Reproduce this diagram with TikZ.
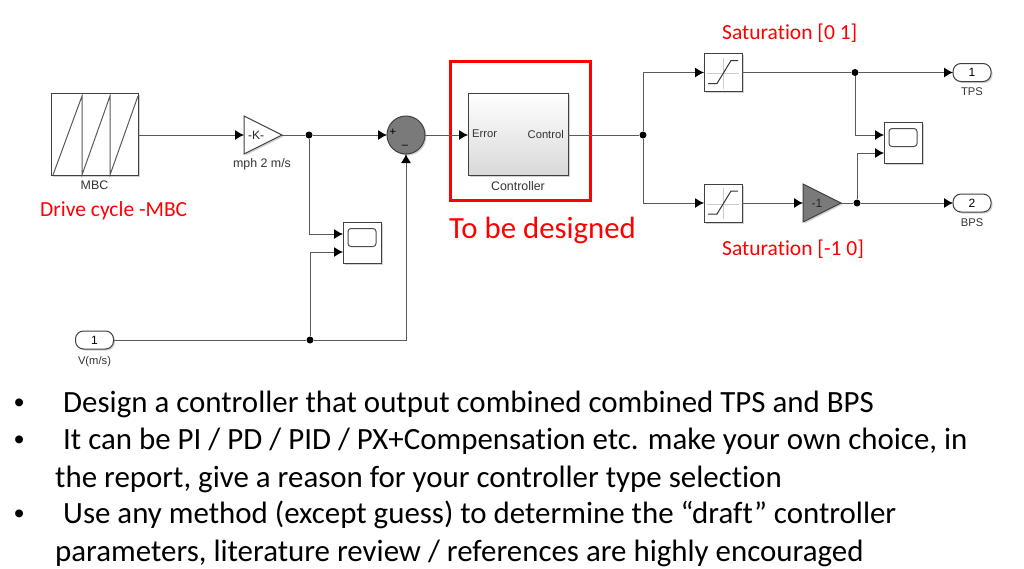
\documentclass[tikz,border=0pt]{standalone}
\usepackage{fontspec}
\setmainfont[Ligatures=NoCommon]{Carlito}
\newfontfamily\simfont{Liberation Sans}
\usetikzlibrary{arrows.meta}
\usetikzlibrary{positioning}
\usetikzlibrary{shadows}
\usetikzlibrary{shapes.geometric}
\definecolor{wirecol}{HTML}{5A5A5A}
\definecolor{darkblock}{HTML}{7A7A7A}
\tikzset{
  wire/.style={draw=wirecol,line width=1pt,-{Latex[length=9pt,width=10pt,color=black]}},
  plain wire/.style={draw=wirecol,line width=1pt},
  block/.style={draw=black!75,fill=white,line width=1pt,inner sep=0pt,outer sep=0pt,
                drop shadow={shadow xshift=1.5pt,shadow yshift=-1.5pt,fill=black!35}},
  satblock/.style={block,minimum width=38pt,minimum height=38pt},
  scopeblock/.style={block,minimum width=38pt,minimum height=41pt},
  port/.style={block,rounded corners=8pt,minimum width=38pt,minimum height=18pt,font=\simfont\fontsize{12}{14}\selectfont},
  gain/.style={block,isosceles triangle,isosceles triangle stretches,minimum width=38pt,minimum height=38pt,anchor=lower side},
  gaintext/.style={font=\simfont\fontsize{12}{14}\selectfont,text=black!85,inner sep=0pt},
  junction/.style={circle,fill=black,inner sep=0pt,minimum size=7pt},
  simlabel/.style={font=\simfont\fontsize{12.4}{14}\selectfont,text=black!80,inner sep=0pt},
  portlabel/.style={font=\simfont\fontsize{11.2}{13}\selectfont,text=black!80,inner sep=0pt},
  note/.style={text=red,font=\fontsize{21.5}{26}\selectfont,inner sep=0pt},
  bullet/.style={anchor=base west,inner sep=0pt,font=\fontsize{30.9}{36}\selectfont},
  bulletdot/.style={anchor=base west,inner sep=0pt,font=\simfont\fontsize{29}{34}\selectfont}
}
\begin{document}
\begin{tikzpicture}[x=1pt,y=-1pt]
  \useasboundingbox (0,0) rectangle (1024,568);

  \node[block,minimum width=87pt,minimum height=82pt] (mbc) at (94.5,134) {};
  \node[simlabel,below=5.5pt of mbc] (mbclabel) {MBC};
  \node[note,anchor=west] (drive) at (40,211) {Drive cycle -MBC};
  \node[gain] (kgain) at (244,135) {};
  \node[gaintext] (kgaintext) at (256,135) {-K-};
  \node[simlabel] (kgainlabel) at (262,164) {mph 2 m/s};
  \node[block,circle,fill=darkblock,minimum size=38pt] (sum) at (406,135) {};
  \node[portlabel,text=black] (plus) at (393,132) {+};
  \node[portlabel,text=black] (minus) at (405,147) {–};
  \node[block,minimum width=100pt,minimum height=82pt,top color=white,bottom color=black!15,shading angle=0] (ctrl) at (518,134) {};
  \node[portlabel,anchor=west] (error) at (472,134) {Error};
  \node[portlabel,anchor=east] (control) at (564,134) {Control};
  \node[simlabel,below=6.5pt of ctrl] (ctrllabel) {Controller};
  \node[draw=red,line width=3pt,minimum width=140pt,minimum height=139pt,inner sep=0pt] (redbox) at (520,130.5) {};
  \node[note,anchor=west,font=\fontsize{30.8}{36}\selectfont] (design) at (449,230) {To be designed};

  \node[satblock] (sat1) at (723,72.5) {};
  \node[satblock] (sat2) at (723,203) {};
  \node[note,anchor=west] (sat1label) at (722,33.5) {Saturation [0 1]};
  \node[note,anchor=west] (sat2label) at (722,249.5) {Saturation [-1 0]};
  \node[gain,fill=darkblock] (neggain) at (803,203) {};
  \node[gaintext] (neggaintext) at (817,203) {-1};
  \node[scopeblock] (scope1) at (903,143) {};
  \node[scopeblock] (scope2) at (362,243) {};
  \node[port] (tps) at (972,72.5) {1};
  \node[portlabel,below=6pt of tps] (tpslabel) {TPS};
  \node[port] (bps) at (972,203) {2};
  \node[portlabel,below=6pt of bps] (bpslabel) {BPS};
  \node[port] (vin) at (94.5,340) {1};
  \node[portlabel,below=7pt of vin] (vinlabel) {V(m/s)};

  \node[junction] (j1) at (309,135) {};
  \node[junction] (j2) at (643,135) {};
  \node[junction] (j3) at (855,72.5) {};
  \node[junction] (j4) at (857,203) {};
  \node[junction] (j5) at (310,340) {};

  \coordinate (scope1a) at (884,135);
  \coordinate (scope1b) at (884,153);
  \coordinate (scope2a) at (343,234);
  \coordinate (scope2b) at (343,252);

  \draw[plain wire] (53,175) -- (82,96) -- (82,175) -- (110,96) -- (110,175) -- (138,96);
  \foreach \satname in {sat1,sat2} {
    \begin{scope}[shift={(\satname)}]
      \draw[black!20,line width=1pt] (-16,1) -- (16,1) (0,-15) -- (0,16);
      \draw[black!80,line width=1pt] (-15,11) -- (-6,11) -- (8,-12) -- (15,-12);
    \end{scope}
  }
  \foreach \scopename in {scope1,scope2} {
    \draw[black!70,line width=1pt,rounded corners=3pt] ([shift={(-14,-14.5)}]\scopename.center) rectangle ([shift={(14,3.5)}]\scopename.center);
  }

  \draw[wire] (mbc.east |- kgain.lower side) -- (kgain.lower side);
  \draw[plain wire] (kgain.apex) -- (j1);
  \draw[wire] (j1) -- (sum);
  \draw[wire] (sum) -- (ctrl.west |- sum);
  \draw[plain wire] (ctrl.east |- j2) -- (j2);
  \draw[wire] (j1) |- (scope2a);
  \draw[wire] (j5) |- (scope2b);
  \draw[plain wire] (vin) -- (j5);
  \draw[wire] (j5) -| (sum);
  \draw[wire] (j2) |- (sat1);
  \draw[wire] (j2) |- (sat2);
  \draw[plain wire] (sat1) -- (j3);
  \draw[wire] (j3) -- (tps);
  \draw[wire] (sat2) -- (neggain.lower side);
  \draw[plain wire] (neggain.apex) -- (j4);
  \draw[wire] (j4) -- (bps);
  \draw[wire] (j3) |- (scope1a);
  \draw[wire] (j4) |- (scope1b);

  \node[bulletdot] (b1) at (14,412) {•};
  \node[bullet] (t1) at (63,412) {Design a controller that output combined combined TPS and BPS};
  \node[bulletdot] (b2) at (14,449) {•};
  \node[bullet] (t2) at (63,449) {It can be PI / PD / PID / PX+Compensation etc. make your own choice, in};
  \node[bullet] (t3) at (55,487) {the report, give a reason for your controller type selection};
  \node[bulletdot] (b3) at (14,523) {•};
  \node[bullet] (t4) at (63,523) {Use any method (except guess) to determine the “draft” controller};
  \node[bullet] (t5) at (55,561) {parameters, literature review / references are highly encouraged};
\end{tikzpicture}
\end{document}
